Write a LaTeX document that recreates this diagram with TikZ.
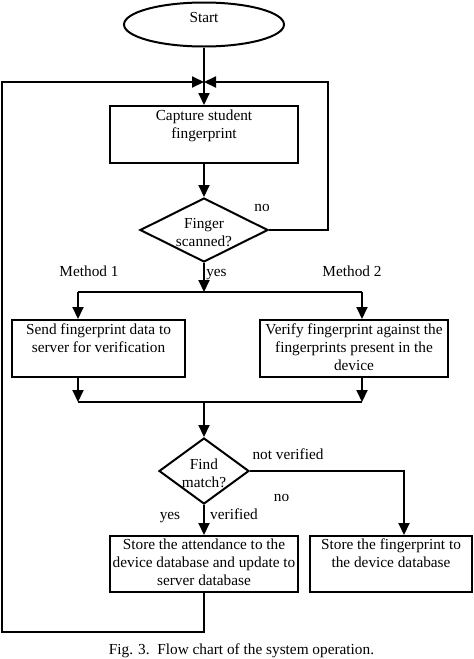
\documentclass[tikz,border=0pt]{standalone}
\usepackage{fontspec}
\setmainfont{Liberation Serif}
\usetikzlibrary{shapes.geometric,arrows.meta}
\begin{document}
\begin{tikzpicture}[x=1pt,y=-1pt,
  font=\fontsize{15.3pt}{18pt}\selectfont,
  line width=2pt,
  arr/.style={-{Triangle[length=12pt,width=11pt]}},
  procbox/.style={draw,rectangle,align=center,inner sep=0pt,minimum height=57pt},
  decis/.style={draw,diamond,align=center,inner sep=-6pt,shape aspect=1.5},
  lbl/.style={inner sep=0pt,text height=10pt,text depth=0pt}]
\useasboundingbox (0,0) rectangle (474,659);

% nodes
\node[draw,ellipse,minimum width=160pt,minimum height=44pt,inner sep=0pt] (start) at (204,24.5) {Start\rule[-14pt]{0pt}{14pt}};
\node[procbox,minimum width=188pt] (cap) at (204,134.5) {\strut Capture student\\fingerprint\\\strut};
\node[decis,minimum width=128pt,minimum height=64pt] (d1) at (204,230) {\rule{0pt}{15pt}Finger\\scanned?};
\node[procbox,minimum width=173pt] (m1) at (98.5,348.5) {\strut Send fingerprint data to\\server for verification\\\strut};
\node[procbox,minimum width=188pt] (m2) at (354,348.5) {\strut Verify fingerprint against the\\fingerprints present in the\\device\strut};
\node[decis,minimum width=90pt,minimum height=66pt] (d2) at (204,471) {\rule{0pt}{15pt}Find\\match?};
\node[procbox,minimum width=188pt,minimum height=56pt] (store) at (204,564) {\strut Store the attendance to the\\device database and update to\\server database\strut};
\node[procbox,minimum width=162pt,minimum height=56pt] (fp) at (391,564) {\strut Store the fingerprint to\\the device database\\\strut};

% labels
\node[lbl] (no1) at (262,206) {no};
\node[lbl] (yes1) at (216.5,271) {yes};
\node[lbl] (meth1) at (89,271) {Method 1};
\node[lbl] (meth2) at (352,271) {Method 2};
\node[lbl] (nv) at (288,454) {not verified};
\node[lbl] (no2) at (281.5,496) {no};
\node[lbl] (yes2) at (170,514) {yes};
\node[lbl] (ver) at (234,514) {verified};
\node[anchor=base,inner sep=0pt] (caption) at (241.5,654.5) {Fig. 3.\ \ Flow chart of the system operation.};

% helper coordinates
\coordinate (jn) at (204,82);
\coordinate (lb) at (1.5,632);
\coordinate (rt) at (328,82);
\coordinate (yj) at (204,292);
\coordinate (sl) at (78,292);
\coordinate (sr) at (362,292);
\coordinate (ml) at (78,402);
\coordinate (mr) at (362,402);
\coordinate (mj) at (204,402);
\coordinate (nr) at (404,471);

% connectors
\draw[arr] (start) -- (cap);
\draw[arr] (store.south) |- (lb) |- (jn);
\draw[arr] (cap) -- (d1);
\draw[arr] (d1.east) -| (rt) -- (jn);
\draw[arr] (d1.south) -- (yj);
\draw (sl) -- (sr);
\draw[arr] (sl) -- (sl |- m1.north);
\draw[arr] (sr) -- (sr |- m2.north);
\draw[arr] (sl |- m1.south) -- (ml);
\draw[arr] (sr |- m2.south) -- (mr);
\draw (ml) -- (mr);
\draw[arr] (mj) -- (d2);
\draw[arr] (d2.east) -- (nr) -- (nr |- fp.north);
\draw[arr] (d2) -- (store);
\end{tikzpicture}
\end{document}
